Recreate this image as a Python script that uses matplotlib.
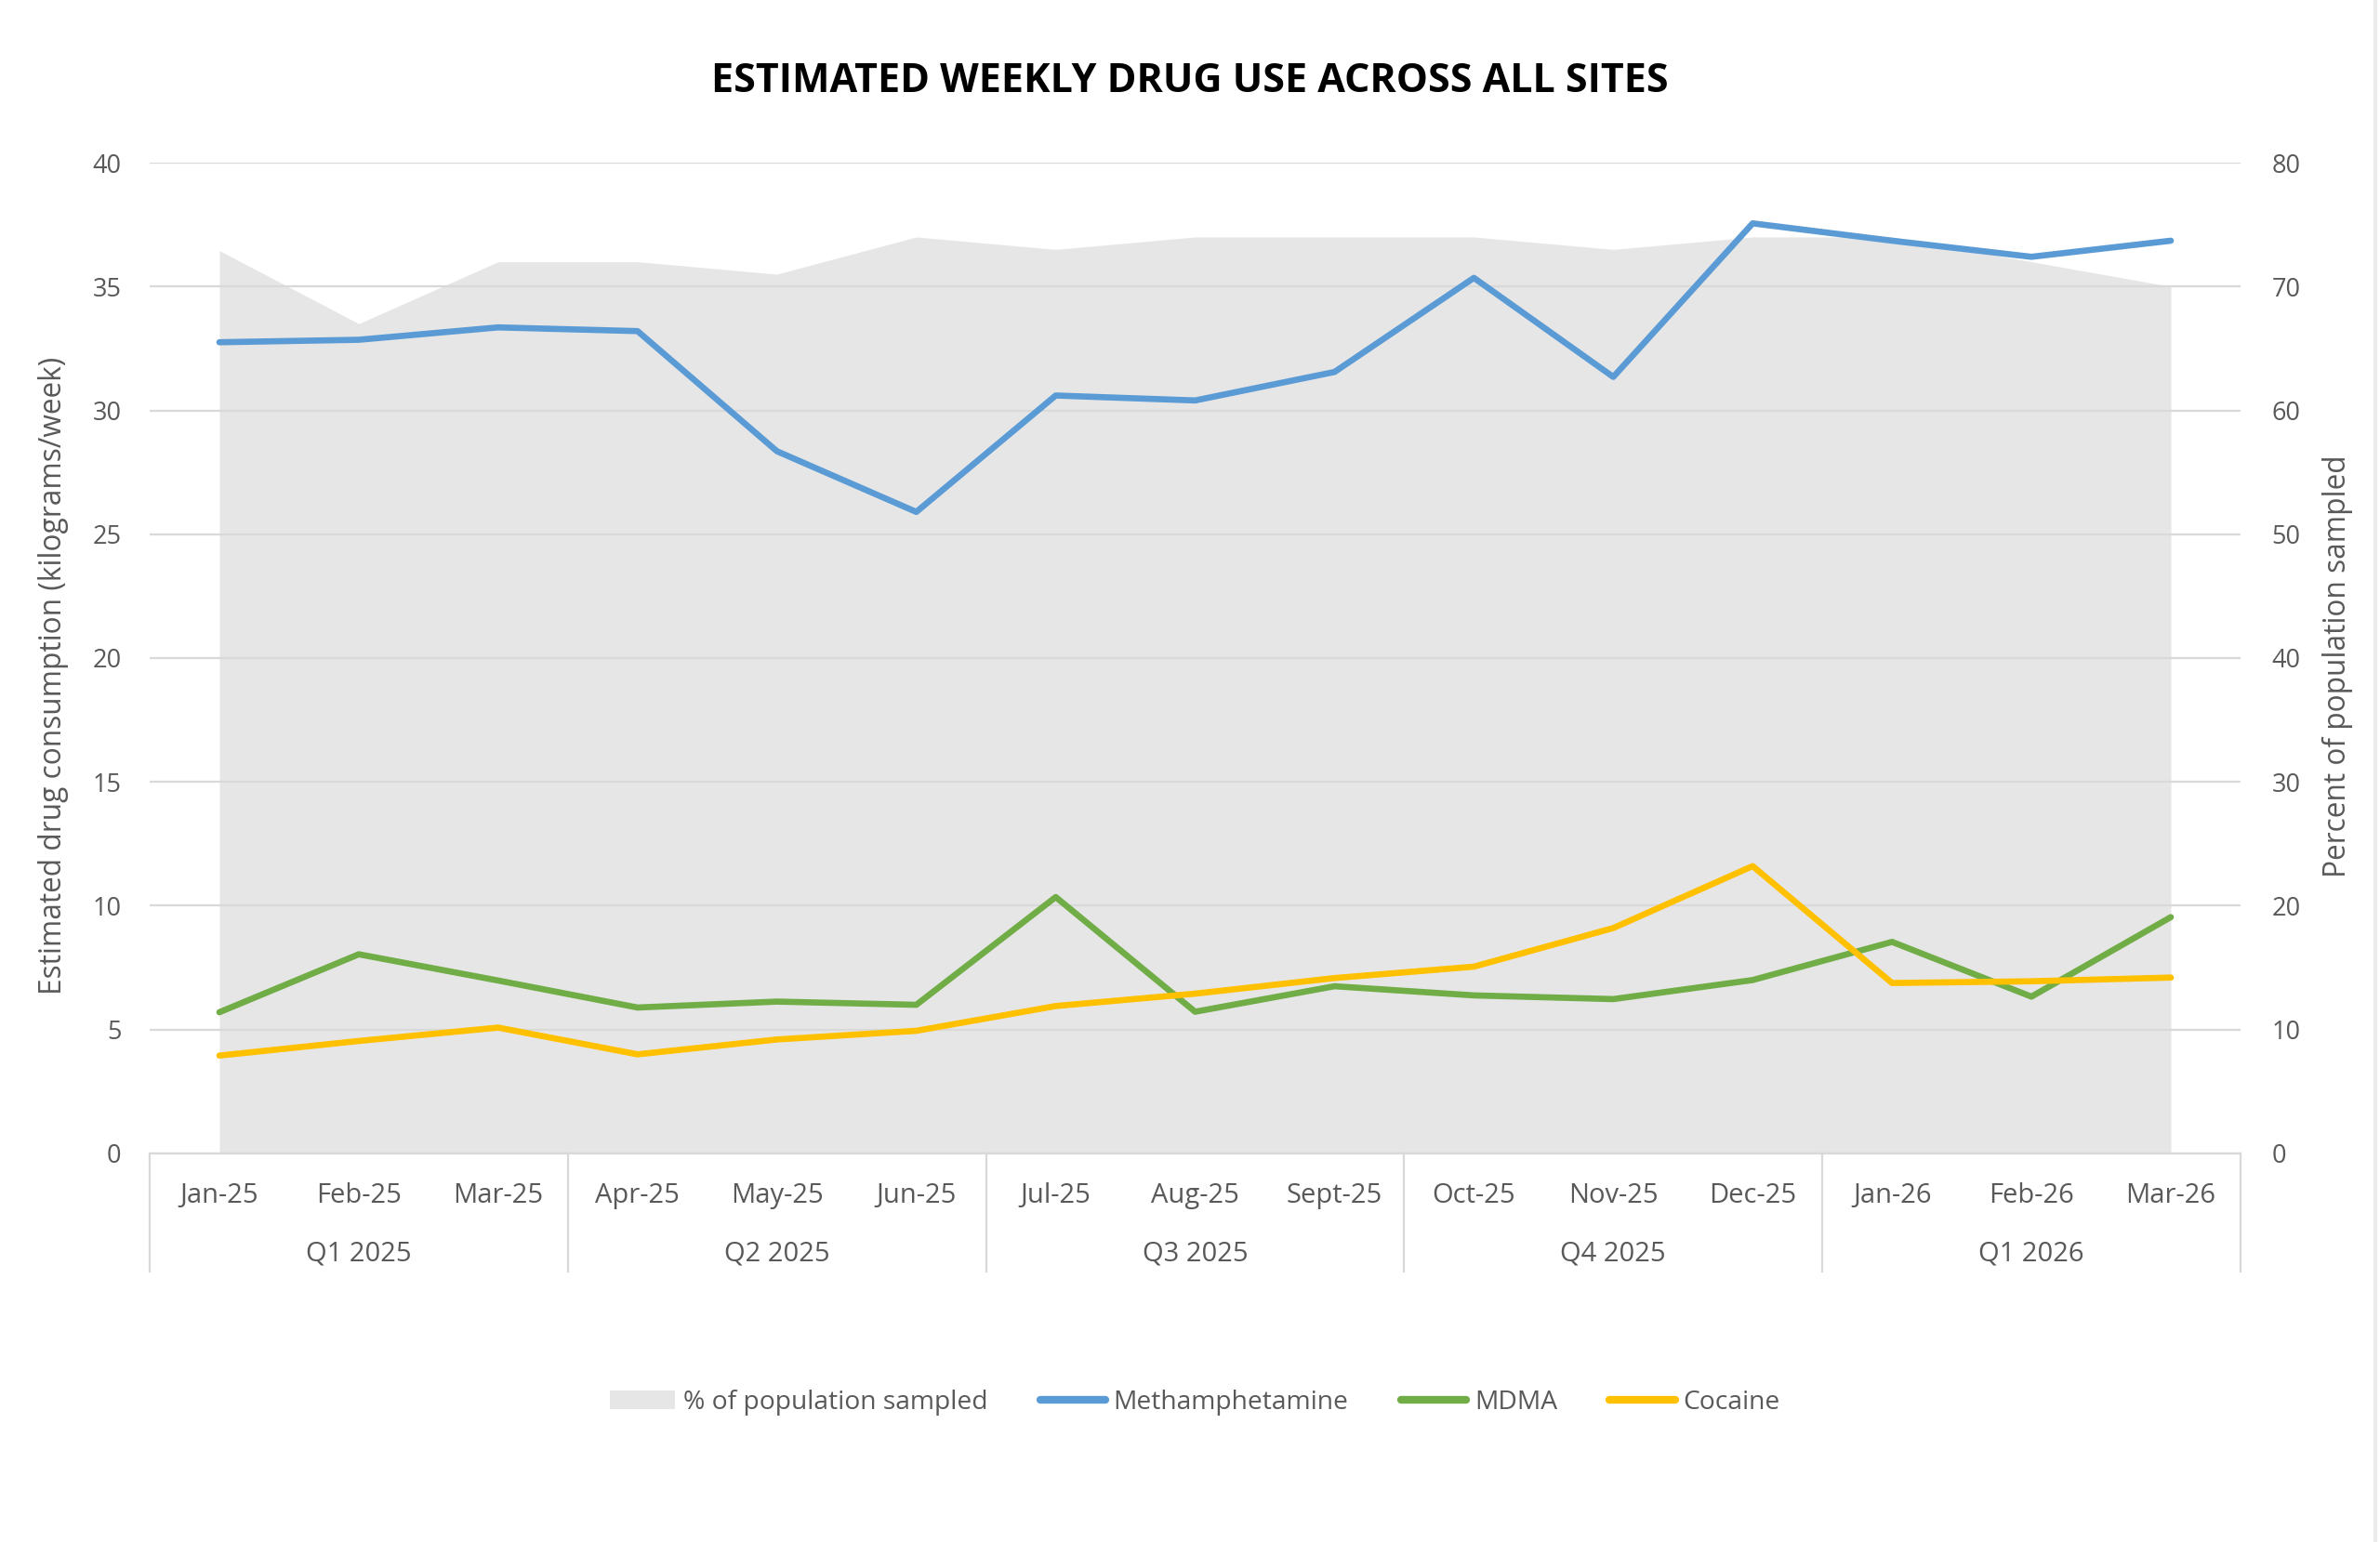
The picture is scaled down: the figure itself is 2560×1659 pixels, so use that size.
import numpy as np
import matplotlib
matplotlib.use("Agg")
import matplotlib.pyplot as plt
import matplotlib.transforms as mtransforms
from matplotlib.patches import Patch
from matplotlib.lines import Line2D

plt.rcParams['font.family'] = ['Open Sans', 'DejaVu Sans']

# data
months = ['Jan-25', 'Feb-25', 'Mar-25', 'Apr-25', 'May-25', 'Jun-25',
          'Jul-25', 'Aug-25', 'Sept-25', 'Oct-25', 'Nov-25', 'Dec-25',
          'Jan-26', 'Feb-26', 'Mar-26']
quarters = ['Q1 2025', 'Q2 2025', 'Q3 2025', 'Q4 2025', 'Q1 2026']
pct_sampled = [72.9, 67.0, 72.0, 72.0, 71.0, 74.0, 73.0, 74.0,
               74.0, 74.0, 73.0, 74.0, 74.0, 72.0, 70.0]
meth = [32.75, 32.85, 33.35, 33.2, 28.35, 25.9, 30.6, 30.4,
        31.55, 35.35, 31.35, 37.55, 36.85, 36.2, 36.85]
mdma = [5.7, 8.04, 6.98, 5.89, 6.13, 6.0, 10.35, 5.72,
        6.75, 6.38, 6.23, 7.0, 8.54, 6.33, 9.54]
cocaine = [3.95, 4.54, 5.08, 4.0, 4.6, 4.95, 5.95, 6.45,
           7.08, 7.54, 9.1, 11.6, 6.88, 6.95, 7.1]

TEXT = '#595959'
GRID = '#d9d9d9'
C_AREA = '#e7e6e6'
C_METH = '#5b9bd5'
C_MDMA = '#70ad47'
C_COC = '#ffc000'

fig = plt.figure(figsize=(25.6, 16.59), dpi=100)
ax = fig.add_axes([0.0629, 0.252, 0.8785, 0.6425])
ax2 = ax.twinx()

x = np.arange(len(months))

# area on the secondary axis, behind everything
ax2.fill_between(x, 0, pct_sampled, color=C_AREA, linewidth=0, zorder=1)
ax2.set_ylim(0, 80)
ax2.set_yticks(np.arange(0, 81, 10))

ax.set_zorder(ax2.get_zorder() + 1)
ax.patch.set_visible(False)

ax.plot(x, meth, color=C_METH, lw=4.8, solid_joinstyle='round', solid_capstyle='round', zorder=3)
ax.plot(x, mdma, color=C_MDMA, lw=4.8, solid_joinstyle='round', solid_capstyle='round', zorder=3)
ax.plot(x, cocaine, color=C_COC, lw=4.8, solid_joinstyle='round', solid_capstyle='round', zorder=3)

ax.set_xlim(-0.5, len(months) - 0.5)
ax.set_ylim(0, 40)
ax.set_yticks(np.arange(0, 41, 5))
ax.yaxis.grid(True, color=GRID, lw=1.6)
ax.set_axisbelow(True)

for a in (ax, ax2):
    for s in a.spines.values():
        s.set_visible(False)
ax.spines['bottom'].set_visible(True)
ax.spines['bottom'].set_color(GRID)
ax.spines['bottom'].set_linewidth(1.6)

ax.tick_params(axis='y', length=0, pad=22, labelsize=19.5, labelcolor=TEXT)
ax2.tick_params(axis='y', length=0, pad=24, labelsize=19.5, labelcolor=TEXT)
ax.set_xticks(x)
ax.set_xticklabels([])
ax.tick_params(axis='x', length=0)

# two-level category axis
trans = mtransforms.blended_transform_factory(ax.transData, ax.transAxes)
for i, m in enumerate(months):
    ax.text(i, -0.0425, m, transform=trans, ha='center', va='center',
            fontsize=21, color=TEXT)
for q, name in enumerate(quarters):
    ax.text(q * 3 + 1, -0.1015, name, transform=trans, ha='center', va='center',
            fontsize=21, color=TEXT)
for b in np.arange(-0.5, len(months), 3):
    ax.plot([b, b], [0, -0.119], transform=trans, color=GRID, lw=1.6, clip_on=False)

fig.text(0.5, 0.9475, 'ESTIMATED WEEKLY DRUG USE ACROSS ALL SITES',
         ha='center', va='center', fontsize=31, fontweight='bold', color='black')
fig.text(0.0223, 0.562, 'Estimated drug consumption (kilograms/week)', rotation=90,
         ha='center', va='center', fontsize=22.8, color=TEXT)
fig.text(0.982, 0.568, 'Percent of population sampled', rotation=90,
         ha='center', va='center', fontsize=22.8, color=TEXT)

handles = [
    Patch(facecolor=C_AREA, edgecolor='none'),
    Line2D([], [], color=C_METH, lw=6, solid_capstyle='round'),
    Line2D([], [], color=C_MDMA, lw=6, solid_capstyle='round'),
    Line2D([], [], color=C_COC, lw=6, solid_capstyle='round'),
]
labels = ['% of population sampled', 'Methamphetamine', 'MDMA', 'Cocaine']
leg = fig.legend(handles, labels, loc='center', bbox_to_anchor=(0.502, 0.0905),
                 ncol=4, frameon=False, fontsize=20.3, handlelength=2.5,
                 handletextpad=0.3, columnspacing=2.0)
for t in leg.get_texts():
    t.set_color(TEXT)

# faint edge on the right side of the picture
fig.add_artist(Line2D([0.998, 0.998], [0, 1], color='#ececec', lw=3, transform=fig.transFigure))

fig.savefig('out.png', dpi=100, facecolor='white')
